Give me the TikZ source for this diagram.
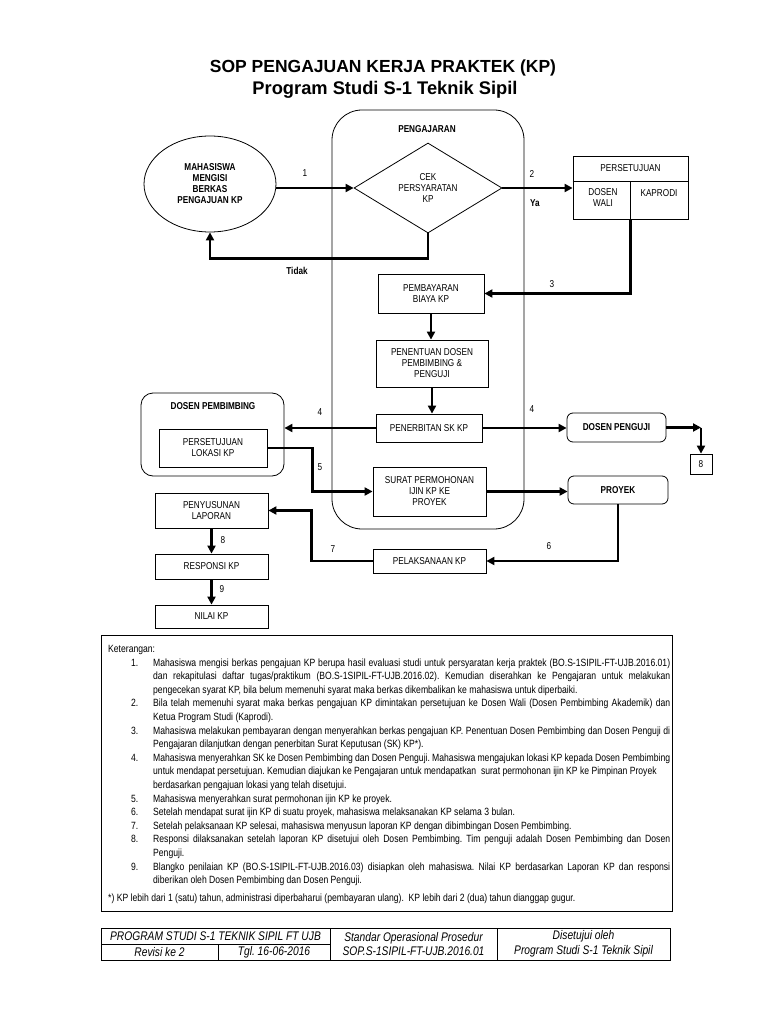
\documentclass[tikz,border=0pt]{standalone}
\usepackage{fontspec}
\setmainfont[FakeStretch=0.82]{Liberation Sans}
\newfontfamily\titlefont{Liberation Sans}
\usetikzlibrary{arrows.meta,shapes.geometric}
\newcommand\dsz{\fontsize{10}{11}\selectfont}
\newcommand\nsz{\fontsize{10.5}{13.6}\selectfont}
\newcommand\fsz{\fontsize{12.5}{14.5}\selectfont\itshape}
\newcommand\itm[2]{\par\noindent\hangindent=45pt\hangafter=1\makebox[45pt][l]{\hspace{23pt}#1.}#2}
\frenchspacing
\begin{document}
\begin{tikzpicture}[x=1pt,y=-1pt,
  box/.style={draw,line width=0.8pt,align=center,font=\dsz,inner sep=1pt},
  rbox/.style={box,rounded corners=6pt},
  arr/.style={line width=2.8pt,-{Triangle[length=8pt,width=8pt]}},
  lab/.style={font=\dsz,inner sep=1pt},
  blab/.style={font=\dsz\bfseries,inner sep=1pt},
  cell/.style={draw,line width=0.9pt,inner sep=0pt,font=\fsz,align=center}]
\useasboundingbox (0,0) rectangle (768,1024);
% title
\node[font=\titlefont\bfseries\fontsize{17.5}{21}\selectfont] (t1) at (383,68) {SOP PENGAJUAN KERJA PRAKTEK (KP)};
\node[font=\titlefont\bfseries\fontsize{18.3}{21}\selectfont] (t2) at (385,90) {Program Studi S-1 Teknik Sipil};
% container
\node[draw,line width=0.8pt,rounded corners=30pt,minimum width=192pt,minimum height=419pt,inner sep=0] (peng) at (428,319.5) {};
\node[blab] (pengl) at (427,129) {PENGAJARAN};
% nodes
\node[draw,ellipse,line width=0.8pt,minimum width=132pt,minimum height=96pt,inner sep=0,align=center,font=\dsz\bfseries] (ell) at (210,184) {MAHASISWA\\MENGISI\\BERKAS\\PENGAJUAN KP};
\node[draw,diamond,aspect=1.64,line width=0.8pt,minimum width=148pt,minimum height=90pt,inner sep=0,align=center,font=\dsz] (dia) at (428,188) {CEK\\PERSYARATAN\\KP};
\node[box,minimum width=115pt,minimum height=63pt] (pers) at (630.5,187.5) {};
\draw[line width=0.8pt] ([yshift=-26pt]pers.north west) -- ([yshift=-26pt]pers.north east);
\draw[line width=0.8pt] ([yshift=-26pt]pers.north) -- (pers.south);
\node[lab] (persl) at (630.5,168) {PERSETUJUAN};
\node[lab,align=center] (wali) at (603,198) {DOSEN\\WALI};
\node[lab] (kap) at (659,193) {KAPRODI};
\node[box,minimum width=106pt,minimum height=39pt] (pemb) at (431,293.5) {PEMBAYARAN\\BIAYA KP};
\node[box,minimum width=112pt,minimum height=47pt] (pen) at (432,363.5) {PENENTUAN DOSEN\\PEMBIMBING \&\\PENGUJI};
\node[box,minimum width=106pt,minimum height=28pt] (sk) at (429,428) {PENERBITAN SK KP};
\node[rbox,minimum width=99pt,minimum height=29pt,font=\dsz\bfseries] (dp) at (616.5,427.5) {DOSEN PENGUJI};
\node[box,minimum width=22pt,minimum height=20pt] (b8) at (701,464) {8};
\coordinate (c8) at (701,427.5);
\node[box,rounded corners=12pt,minimum width=143pt,minimum height=83pt] (dpb) at (212.5,434.5) {};
\node[blab] (dpbl) at (213,406) {DOSEN PEMBIMBING};
\node[box,minimum width=108pt,minimum height=38pt] (lok) at (213,448) {PERSETUJUAN\\LOKASI KP};
\node[box,minimum width=113pt,minimum height=49pt] (surat) at (429.5,491.5) {SURAT PERMOHONAN\\IJIN KP KE\\PROYEK};
\node[rbox,minimum width=100pt,minimum height=28pt,font=\dsz\bfseries] (proy) at (618,490) {PROYEK};
\node[box,minimum width=113pt,minimum height=24pt] (pel) at (429.5,561) {PELAKSANAAN KP};
\node[box,minimum width=113pt,minimum height=35pt] (lap) at (211.5,510.5) {PENYUSUNAN\\LAPORAN};
\node[box,minimum width=113pt,minimum height=25pt] (resp) at (211.5,566.5) {RESPONSI KP};
\node[box,minimum width=113pt,minimum height=23pt] (nilai) at (211.5,616.5) {NILAI KP};
% connectors
\draw[arr] (ell.east |- dia.west) -- (dia.west);
\draw[arr] (dia.south) -- ++(0,25) -| (ell.south);
\draw[arr] (dia.east) -- (dia.east -| pers.west);
\draw[arr] (pers.south) |- (pemb.east);
\draw[arr] (pemb.south) -- (pemb.south |- pen.north);
\draw[arr] (pen.south) -- (pen.south |- sk.north);
\draw[arr] (sk.east) -- (sk.east -| dp.west);
\draw[arr] (dp.east) -- (c8);
\draw[arr] (c8) -- (b8.north);
\draw[arr] (sk.west) -- (sk.west -| dpb.east);
\draw[arr] (lok.east) -- ++(45,0) |- (surat.west);
\draw[arr] (surat.east) -- (surat.east -| proy.west);
\draw[arr] (proy.south) |- (pel.east);
\draw[arr] (pel.west) -- ++(-61,0) |- (lap.east);
\draw[arr] (lap.south) -- (resp.north);
\draw[arr] (resp.south) -- (nilai.north);
% labels
\node[lab] (l1) at (305,173) {1};
\node[lab] (l2) at (532,174) {2};
\node[blab] (ya) at (535,203) {Ya};
\node[blab] (tidak) at (297,271) {Tidak};
\node[lab] (l3) at (552,284) {3};
\node[lab] (l4a) at (320,412) {4};
\node[lab] (l4b) at (532,409) {4};
\node[lab] (l5) at (320,467) {5};
\node[lab] (l6) at (549,546) {6};
\node[lab] (l7) at (333,549) {7};
\node[lab] (l8) at (223,540) {8};
\node[lab] (l9) at (222,589) {9};
% notes
\node[draw,line width=0.8pt,anchor=north west,minimum width=571pt,minimum height=276pt,inner sep=0] (nbox) at (101,635) {};
\node[anchor=north west,text width=562pt,inner sep=0,font=\nsz,align=justify] (notes) at (108,645) {%
\tolerance=10000\hyphenpenalty=10000\emergencystretch=20pt
\noindent Keterangan:
\itm{1}{Mahasiswa mengisi berkas pengajuan KP berupa hasil evaluasi studi untuk persyaratan kerja praktek (BO.S-1SIPIL-FT-UJB.2016.01)\linebreak dan rekapitulasi daftar tugas/praktikum (BO.S-1SIPIL-FT-UJB.2016.02). Kemudian diserahkan ke Pengajaran untuk melakukan\linebreak pengecekan syarat KP, bila belum memenuhi syarat maka berkas dikembalikan ke mahasiswa untuk diperbaiki.}
\itm{2}{Bila telah memenuhi syarat maka berkas pengajuan KP dimintakan persetujuan ke Dosen Wali (Dosen Pembimbing Akademik) dan\linebreak Ketua Program Studi (Kaprodi).}
\itm{3}{Mahasiswa melakukan pembayaran dengan menyerahkan berkas pengajuan KP. Penentuan Dosen Pembimbing dan Dosen Penguji di\linebreak Pengajaran dilanjutkan dengan penerbitan Surat Keputusan (SK) KP*).}
\itm{4}{Mahasiswa menyerahkan SK ke Dosen Pembimbing dan Dosen Penguji. Mahasiswa mengajukan lokasi KP kepada Dosen Pembimbing\linebreak untuk mendapat persetujuan. Kemudian diajukan ke Pengajaran untuk mendapatkan\ \ surat permohonan ijin KP ke Pimpinan Proyek\newline berdasarkan pengajuan lokasi yang telah disetujui.}
\itm{5}{Mahasiswa menyerahkan surat permohonan ijin KP ke proyek.}
\itm{6}{Setelah mendapat surat ijin KP di suatu proyek, mahasiswa melaksanakan KP selama 3 bulan.}
\itm{7}{Setelah pelaksanaan KP selesai, mahasiswa menyusun laporan KP dengan dibimbingan Dosen Pembimbing.}
\itm{8}{Responsi dilaksanakan setelah laporan KP disetujui oleh Dosen Pembimbing. Tim penguji adalah Dosen Pembimbing dan Dosen\linebreak Penguji.}
\itm{9}{Blangko penilaian KP (BO.S-1SIPIL-FT-UJB.2016.03) disiapkan oleh mahasiswa. Nilai KP berdasarkan Laporan KP dan responsi\linebreak diberikan oleh Dosen Pembimbing dan Dosen Penguji.}
\par\vspace{4.5pt}\noindent *) KP lebih dari 1 (satu) tahun, administrasi diperbaharui (pembayaran ulang).\ \ KP lebih dari 2 (dua) tahun dianggap gugur.\par};
% footer
\node[cell,minimum width=229pt,minimum height=16pt] (f1) at (215.5,936) {PROGRAM STUDI S-1 TEKNIK SIPIL FT UJB};
\node[cell,minimum width=117pt,minimum height=16pt] (f2) at (159.5,952) {Revisi ke 2};
\node[cell,minimum width=112pt,minimum height=16pt] (f3) at (274,952) {Tgl. 16-06-2016};
\node[cell,minimum width=167pt,minimum height=32pt] (f4) at (413.5,944) {Standar Operasional Prosedur\\SOP.S-1SIPIL-FT-UJB.2016.01};
\node[cell,minimum width=173pt,minimum height=32pt] (f5) at (583.5,944) {Disetujui oleh\\Program Studi S-1 Teknik Sipil};
\end{tikzpicture}
\end{document}
